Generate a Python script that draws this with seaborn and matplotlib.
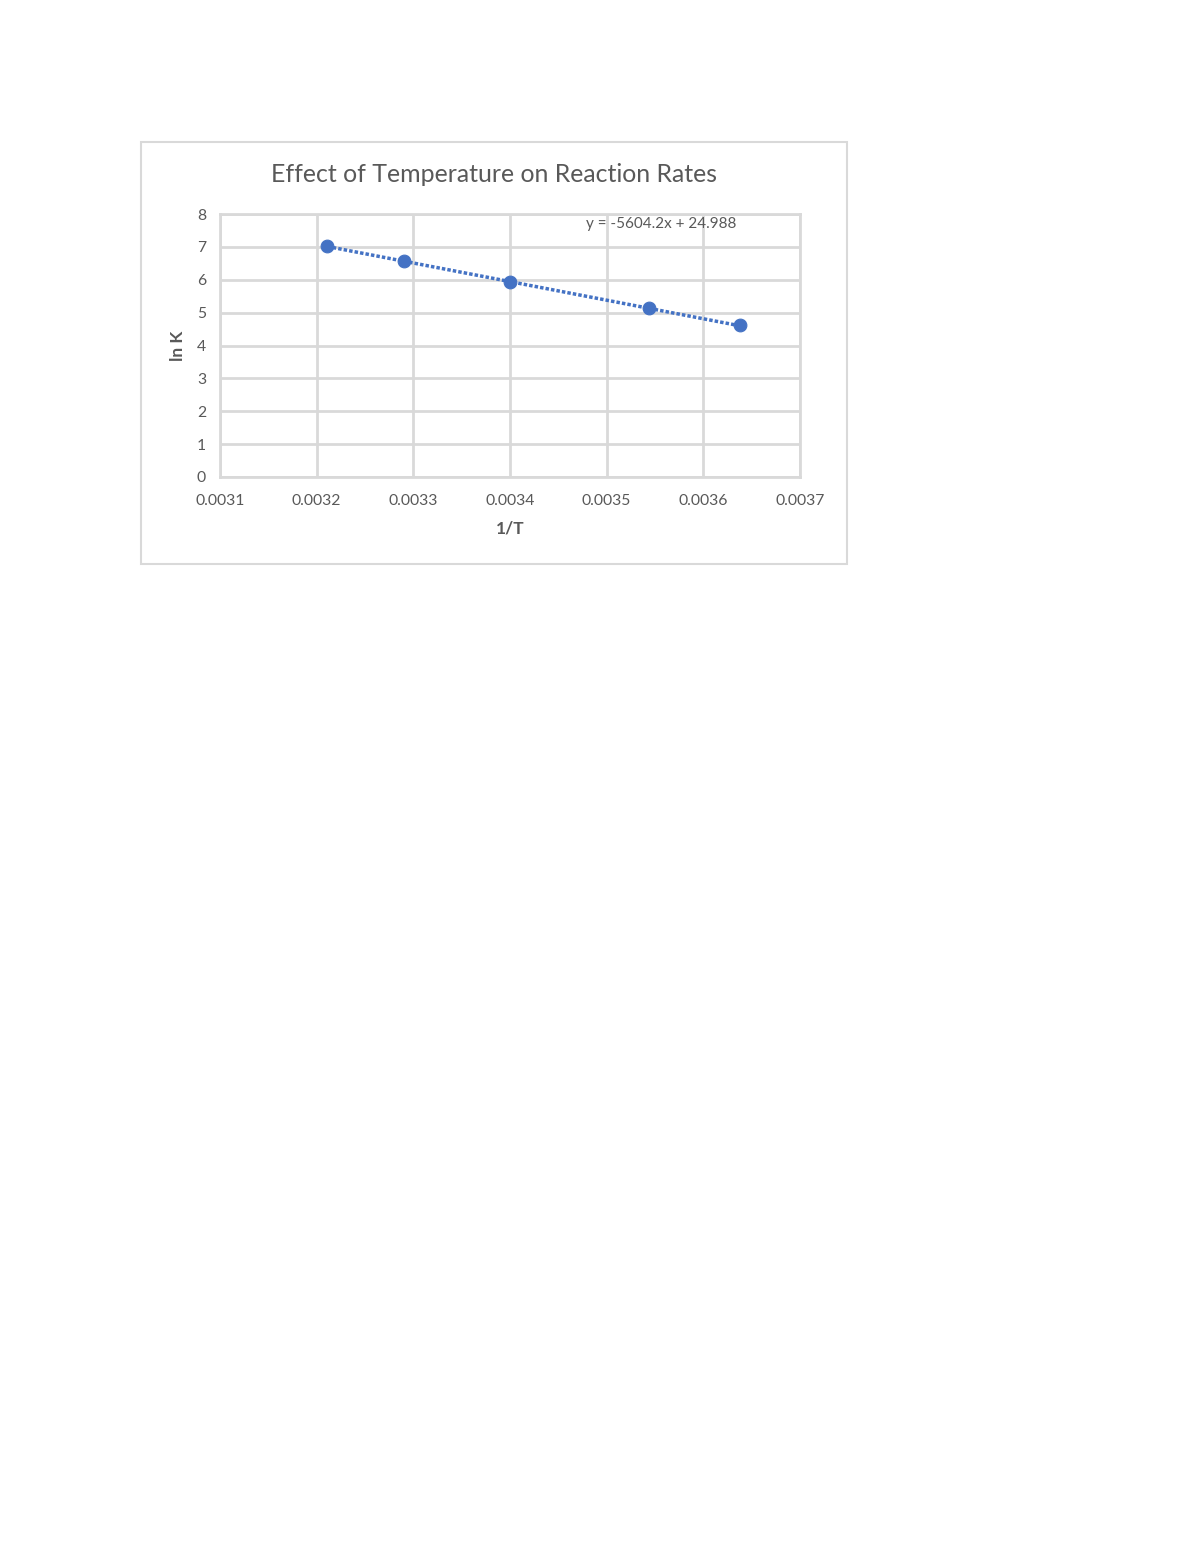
import matplotlib
matplotlib.use("Agg")
import matplotlib.pyplot as plt
import seaborn as sns
import numpy as np
import pandas as pd
from matplotlib.patches import Rectangle

inv_T = [0.003211, 0.003290, 0.003400, 0.003544, 0.003638]
ln_K = [7.03, 6.56, 5.92, 5.13, 4.61]
x_ticks = [0.0031, 0.0032, 0.0033, 0.0034, 0.0035, 0.0036, 0.0037]
x_tick_labels = ["0.0031", "0.0032", "0.0033", "0.0034", "0.0035", "0.0036", "0.0037"]
y_ticks = [0, 1, 2, 3, 4, 5, 6, 7, 8]
title = "Effect of Temperature on Reaction Rates"
equation = "y = -5604.2x + 24.988"

df = pd.DataFrame({"1/T": inv_T, "ln K": ln_K})

sns.set_theme(style="white")
plt.rcParams['font.family'] = ['Lato', 'DejaVu Sans']

fig = plt.figure(figsize=(12, 15.53), dpi=100)
fig.patch.set_facecolor("white")
fig.patches.append(Rectangle((141/1200, 1 - 564/1553), 706/1200, 422/1553,
                             transform=fig.transFigure, fill=False,
                             edgecolor="#d9d9d9", linewidth=1.5))

ax = fig.add_axes([220/1200, 1 - 477/1553, 580/1200, 263/1553])
blue = "#4472C4"
grey = "#595959"

sns.regplot(data=df, x="1/T", y="ln K", ax=ax, ci=None, scatter=False,
            line_kws=dict(color=blue, linestyle=(0, (1, 0.6)), linewidth=2.5))
sns.scatterplot(data=df, x="1/T", y="ln K", ax=ax, color=blue, s=85,
                edgecolor=blue, zorder=5)

ax.set_xlim(0.0031, 0.0037)
ax.set_ylim(0, 8)
ax.set_xticks(x_ticks)
ax.set_xticklabels(x_tick_labels)
ax.set_yticks(y_ticks)
ax.grid(True, color="#d9d9d9", linewidth=2)
ax.set_axisbelow(True)
for s in ax.spines.values():
    s.set_color("#d9d9d9")
    s.set_linewidth(2)
ax.tick_params(axis="x", length=0, labelsize=11.3, colors=grey, pad=12)
ax.tick_params(axis="y", length=0, labelsize=11.3, colors=grey, pad=10)
ax.set_xlabel("1/T", fontsize=12.5, color=grey, fontweight="bold", labelpad=9)
ax.set_ylabel("ln K", fontsize=12.5, color=grey, fontweight="bold", labelpad=8)
ax.text(0.003556, 7.70, equation, ha="center", va="center", fontsize=11, color=grey)
fig.text(494/1200, 1 - 174/1553, title, ha="center", va="center",
         fontsize=17.9, color=grey)

fig.savefig("out.png", dpi=100, facecolor="white")
